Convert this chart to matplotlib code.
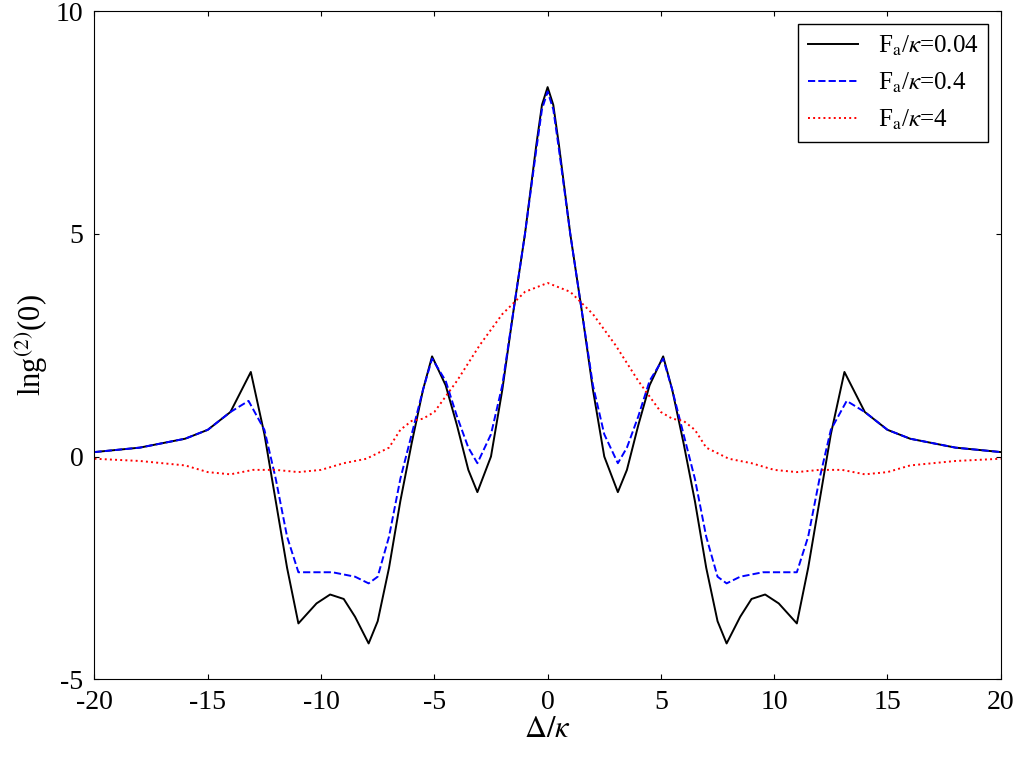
import matplotlib
matplotlib.use("Agg")
import matplotlib.pyplot as plt
import numpy as np

plt.rcParams['font.family'] = ['Liberation Serif', 'DejaVu Serif']
plt.rcParams['mathtext.fontset'] = 'stix'
plt.rcParams['axes.unicode_minus'] = False

# right half of each curve (the curves are symmetric about 0)
x_black = [0, 0.25, 0.5, 1, 1.5, 2, 2.5, 3.1, 3.5, 4, 4.5, 5.1, 5.5, 6, 6.5, 7, 7.5, 7.9,
           8.5, 9, 9.6, 10.2, 11, 11.5, 12, 12.5, 13.1, 13.5, 14, 15, 16, 18, 20]
y_black = [8.3, 7.9, 7.0, 5.0, 3.3, 1.5, 0.0, -0.8, -0.3, 0.7, 1.6, 2.25, 1.5, 0.3, -1.0, -2.5, -3.7, -4.2,
           -3.6, -3.2, -3.1, -3.3, -3.75, -2.5, -1.0, 0.5, 1.9, 1.5, 1.0, 0.6, 0.4, 0.2, 0.1]

x_blue = [0, 0.25, 0.5, 1, 1.5, 2, 2.5, 3.1, 3.5, 4, 4.5, 5.1, 5.5, 6, 6.5, 7, 7.5, 7.9,
          8.5, 9.5, 10.5, 11, 11.5, 12, 12.5, 13.2, 14, 15, 16, 18, 20]
y_blue = [8.2, 7.8, 6.9, 5.0, 3.3, 1.6, 0.5, -0.15, 0.2, 0.9, 1.7, 2.2, 1.5, 0.5, -0.5, -1.8, -2.7, -2.85,
          -2.7, -2.6, -2.6, -2.6, -1.8, -0.5, 0.6, 1.25, 1.0, 0.6, 0.4, 0.2, 0.1]

x_red = [0, 1, 2, 3, 4, 5, 5.5, 6, 6.5, 7, 8, 9, 10, 11, 12, 13, 14, 15, 16, 18, 20]
y_red = [3.9, 3.7, 3.2, 2.5, 1.7, 1.0, 0.85, 0.8, 0.6, 0.2, -0.05, -0.15, -0.3, -0.35, -0.3, -0.3, -0.4,
         -0.35, -0.2, -0.1, -0.05]

def mirror(x, y):
    x = np.array(x); y = np.array(y)
    return np.concatenate([-x[:0:-1], x]), np.concatenate([y[:0:-1], y])

fig, ax = plt.subplots(figsize=(10.16, 7.63), dpi=100)
fig.subplots_adjust(left=0.093, right=0.985, top=0.985, bottom=0.11)

ax.plot(*mirror(x_black, y_black), color='black', lw=1.4, label=r'F$_\mathrm{a}$/$\kappa$=0.04')
ax.plot(*mirror(x_blue, y_blue), color='blue', ls='--', lw=1.4, label=r'F$_\mathrm{a}$/$\kappa$=0.4')
ax.plot(*mirror(x_red, y_red), color='red', ls=':', lw=1.4, label=r'F$_\mathrm{a}$/$\kappa$=4')

ax.set_xlim(-20, 20)
ax.set_ylim(-5, 10)
ax.set_xticks(range(-20, 21, 5))
ax.set_yticks([-5, 0, 5, 10])
ax.tick_params(direction='in', top=True, right=True, labelsize=20, pad=8)
ax.set_xlabel(r'$\Delta/\kappa$', fontsize=22, labelpad=0)
ax.set_ylabel(r'lng$^{(2)}$(0)', fontsize=22, labelpad=4)
ax.legend(loc='upper right', fontsize=18, fancybox=False, edgecolor='black', framealpha=1)

plt.savefig('out.png')
